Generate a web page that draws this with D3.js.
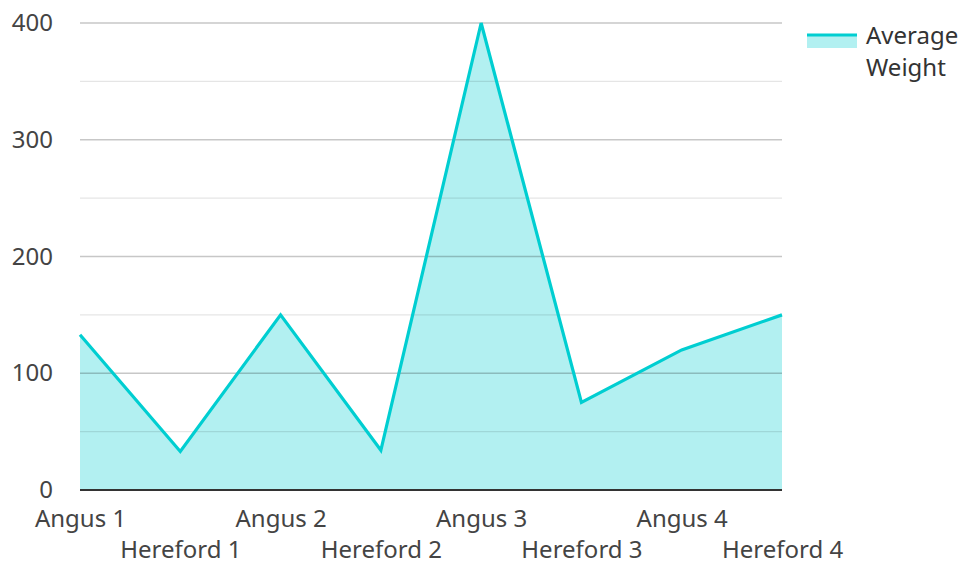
<!DOCTYPE html>
<html>
<head>
<meta charset="utf-8">
<script src="https://cdn.jsdelivr.net/npm/d3@7"></script>
<style>
  body { margin: 0; background: #fff; }
  svg, svg text { font-family: "Noto Sans", sans-serif; }
  .tick text { fill: #444; font-size: 24px; }
  .axis path, .axis line { display: none; }
</style>
</head>
<body>
<script>
var categories = ["Angus 1", "Hereford 1", "Angus 2", "Hereford 2", "Angus 3", "Hereford 3", "Angus 4", "Hereford 4"];
var weights = [133, 33, 150, 34, 400, 75, 120, 150];
var yTicks = [0, 100, 200, 300, 400];
var yMinor = [50, 150, 250, 350];
var seriesName = ["Average", "Weight"];

var W = 966, H = 562;
var padL = 80, padR = 782, padT = 23, padB = 490;

var svg = d3.select("body").append("svg")
  .attr("width", W).attr("height", H);

var x = d3.scalePoint().domain(categories).range([padL, padR]);
var y = d3.scaleLinear().domain([0, 400]).range([padB, padT]);

var data = categories.map(function (c, i) { return { c: c, v: weights[i] }; });

// area
svg.append("path")
  .datum(data)
  .attr("fill", "#00ced1")
  .attr("fill-opacity", 0.3)
  .attr("d", d3.area().x(function (d) { return x(d.c); }).y0(y(0)).y1(function (d) { return y(d.v); }));

// grid lines drawn over the fill
svg.selectAll("line.minor").data(yMinor).enter().append("line")
  .attr("x1", padL).attr("x2", padR)
  .attr("y1", function (d) { return y(d); }).attr("y2", function (d) { return y(d); })
  .attr("stroke", "#000").attr("stroke-opacity", 0.1).attr("stroke-width", 1.2);
svg.selectAll("line.major").data(yTicks.slice(1)).enter().append("line")
  .attr("x1", padL).attr("x2", padR)
  .attr("y1", function (d) { return y(d); }).attr("y2", function (d) { return y(d); })
  .attr("stroke", "#000").attr("stroke-opacity", 0.22).attr("stroke-width", 1.5);

// line
svg.append("path")
  .datum(data)
  .attr("fill", "none")
  .attr("stroke", "#00ced1")
  .attr("stroke-width", 3.2)
  .attr("d", d3.line().x(function (d) { return x(d.c); }).y(function (d) { return y(d.v); }));

// baseline
svg.append("line")
  .attr("x1", padL).attr("x2", padR)
  .attr("y1", y(0)).attr("y2", y(0))
  .attr("stroke", "#333").attr("stroke-width", 2);

// y axis labels
var yAxis = svg.append("g").attr("class", "axis")
  .attr("transform", "translate(" + (padL - 27) + ",0)")
  .call(d3.axisLeft(y).tickValues(yTicks).tickSize(0).tickPadding(0));
yAxis.selectAll("text").attr("dy", "0.32em");

// x axis labels, staggered
var xAxis = svg.append("g").attr("class", "axis")
  .attr("transform", "translate(0," + padB + ")")
  .call(d3.axisBottom(x).tickSize(0).tickPadding(0));
xAxis.selectAll("text")
  .attr("dy", null)
  .attr("y", function (d, i) { return i % 2 === 0 ? 37 : 68; });

// legend
var lg = svg.append("g").attr("transform", "translate(807,0)");
lg.append("rect").attr("x", 0).attr("y", 34).attr("width", 50).attr("height", 14)
  .attr("fill", "#00ced1").attr("fill-opacity", 0.3);
lg.append("line").attr("x1", 0).attr("x2", 50).attr("y1", 35).attr("y2", 35)
  .attr("stroke", "#00ced1").attr("stroke-width", 3);
lg.selectAll("text").data(seriesName).enter().append("text")
  .attr("x", 59)
  .attr("y", function (d, i) { return 44 + i * 32; })
  .attr("fill", "#333")
  .style("font-size", "24px")
  .text(function (d) { return d; });
</script>
</body>
</html>
